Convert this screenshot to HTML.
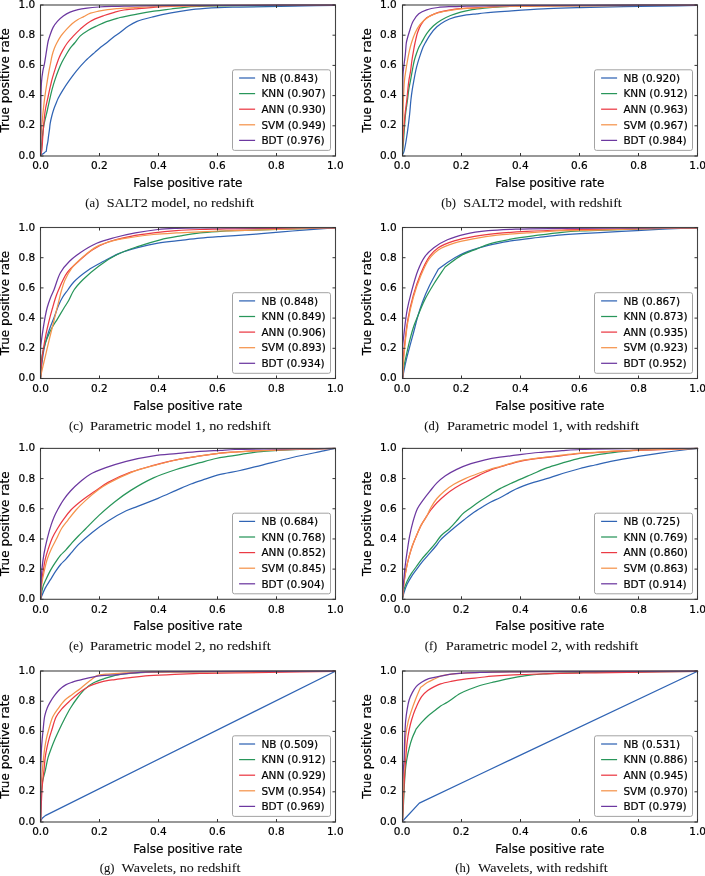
<!DOCTYPE html><html><head><meta charset="utf-8"><style>html,body{margin:0;padding:0;background:#fff;}svg{display:block}.t{font-family:"DejaVu Sans","Liberation Sans",sans-serif;fill:#000;stroke:#000;stroke-width:0.2px;}.c{font-family:"Liberation Serif","DejaVu Serif",serif;fill:#111;stroke:#111;stroke-width:0.08px;}</style></head><body>
<svg width="705" height="876" viewBox="0 0 705 876">
<rect width="705" height="876" fill="#fff"/>
<g><clipPath id="cp0"><rect x="40.5" y="4.0" width="296.0" height="152.5"/></clipPath><g clip-path="url(#cp0)" fill="none" stroke-width="1.25" stroke-linejoin="round" stroke-linecap="round"><path d="M40.8,155.3C42,154.43 43.4,153.46 44.4,152.7C45.14,152.14 45.67,151.7 46.3,151.2C46.5,149.57 46.64,147.87 46.9,146.3C47.15,144.81 47.54,143.58 47.8,142C48.12,140.08 48.32,137.72 48.6,135.6C48.88,133.49 49.23,131.38 49.5,129.3C49.76,127.28 49.85,125.39 50.2,123.3C50.59,120.98 51.21,118.33 51.8,116C52.35,113.81 52.92,111.73 53.6,109.7C54.26,107.74 55.04,105.89 55.8,104C56.57,102.09 57.2,100.32 58.2,98.3C59.41,95.85 60.99,93.17 62.7,90.4C64.68,87.18 67.19,83.47 69.5,80.2C71.73,77.05 73.8,74.16 76.3,71.1C79.05,67.74 82.23,64.1 85.4,60.9C88.5,57.77 92.49,54.41 95.1,52.1C96.84,50.56 97.85,49.65 99.5,48.3C101.52,46.65 104.14,44.81 106.4,43C108.64,41.21 110.73,39.25 113,37.5C115.27,35.75 117.57,34.3 120,32.5C122.71,30.5 125.59,27.88 128.5,26C131.26,24.21 133.59,22.78 137,21.4C141.61,19.53 148.3,18.02 154,16.6C159.67,15.19 165.39,13.99 171.1,12.9C176.76,11.82 182.42,10.85 188.1,10.1C193.75,9.35 199.75,8.83 205.1,8.4C209.88,8.02 213.66,7.81 218.7,7.6C225,7.34 231.79,7.28 240,7.1C251.25,6.86 265.61,6.56 280,6.3C296.88,5.99 316.67,5.7 335,5.4" stroke="#3064b4"/><path d="M40.6,155.3C41.07,150.33 41.48,145.3 42,140.4C42.51,135.61 42.86,131.07 43.7,126.2C44.61,120.95 46.29,114.99 47.4,110C48.35,105.73 49.12,101.91 50,98.1C50.82,94.56 51.61,91.13 52.5,87.9C53.32,84.93 54.14,82.29 55.1,79.4C56.12,76.33 57.31,72.96 58.5,70C59.59,67.29 60.65,64.83 61.9,62.3C63.17,59.73 64.65,57.14 66.1,54.7C67.49,52.35 68.9,49.93 70.4,47.9C71.75,46.08 73.11,44.8 74.6,43C76.37,40.86 78.07,38 80.3,35.9C82.61,33.72 85.49,31.89 88.3,30.2C91.15,28.49 94.27,27.12 97.3,25.7C100.31,24.29 103.33,22.84 106.4,21.7C109.4,20.58 113,19.67 115.5,18.9C117.26,18.35 118,18.01 120,17.5C123.83,16.52 131.33,15.15 137,14.1C142.66,13.05 148.32,12.05 154,11.2C159.68,10.35 165.73,9.68 171.1,9C175.89,8.39 180.31,7.74 184.7,7.3C188.79,6.89 191.39,6.64 196.6,6.4C206.54,5.93 222.73,5.79 240,5.6C265.54,5.32 303.33,5.4 335,5.3" stroke="#28965a"/><path d="M40.6,155.3C41,153.7 41.48,152.5 41.8,150.5C42.31,147.29 42.4,141.85 42.7,137.8C42.97,134.08 43.14,131.08 43.5,127.1C43.95,122.06 44.49,115.17 45.3,110C45.98,105.66 46.95,102.06 47.8,98.1C48.65,94.13 49.56,89.83 50.4,86.2C51.12,83.12 51.76,80.37 52.5,77.7C53.17,75.3 53.89,73.17 54.6,70.9C55.32,68.61 56.02,66.28 56.8,64C57.58,61.72 58.33,59.44 59.3,57.2C60.29,54.91 61.42,52.68 62.7,50.4C64.07,47.95 65.54,45.37 67.3,43C69.13,40.53 71.35,38.21 73.5,35.9C75.68,33.57 77.99,31.22 80.3,29.1C82.52,27.06 84.66,25.09 87.1,23.4C89.58,21.68 92.3,20.21 95.1,18.9C97.96,17.56 100.98,16.57 104.1,15.5C107.4,14.36 111.01,13.23 114.4,12.3C117.64,11.41 120.67,10.56 124,10C127.52,9.4 130.62,9.31 135,8.9C141.48,8.29 151.59,7.27 159.1,6.8C165.67,6.39 170.17,6.29 177.6,6.1C188.84,5.81 202.41,5.64 220,5.5C248.96,5.27 296.67,5.37 335,5.3" stroke="#eb3a44"/><path d="M40.6,155.3C40.77,148.43 40.76,140.91 41.1,134.7C41.38,129.55 41.91,124.96 42.3,120.6C42.64,116.81 42.9,113.75 43.3,110C43.75,105.75 44.28,100.93 44.9,96.4C45.52,91.86 46.32,87.01 47,82.8C47.59,79.15 48.11,75.85 48.7,72.6C49.25,69.61 49.83,66.86 50.4,64C50.97,61.16 51.43,58.16 52.1,55.5C52.71,53.09 53.38,50.84 54.2,48.7C54.97,46.69 55.77,44.98 56.8,43C57.98,40.73 59.39,38.18 61,35.9C62.67,33.54 64.75,31.23 66.7,29.1C68.56,27.07 70.43,25.05 72.4,23.4C74.21,21.89 76.08,20.65 78,19.5C79.85,18.39 81.71,17.6 83.7,16.6C85.86,15.51 88.09,14.09 90.5,13.2C93.01,12.27 95.74,11.79 98.5,11.2C101.4,10.58 104.48,10.02 107.5,9.6C110.52,9.18 113.72,8.96 116.6,8.7C119.19,8.47 121.29,8.27 124,8.1C127.3,7.89 130.68,7.8 135,7.6C141.21,7.31 148.96,6.8 157.7,6.5C169.62,6.08 181.92,5.81 200,5.6C232.3,5.22 290,5.4 335,5.3" stroke="#f5944c"/><path d="M40.6,155.3C40.67,140.2 40.7,121.03 40.8,110C40.86,103.65 40.88,99.82 41,95C41.12,90.51 41.17,86.12 41.5,82C41.8,78.25 42.25,74.52 42.8,71.3C43.25,68.62 43.86,66.82 44.4,64C45.13,60.17 45.92,54.51 46.6,50.4C47.17,46.98 47.56,43.7 48.2,41C48.7,38.9 49.2,37.5 49.9,35.5C50.76,33.05 51.76,29.84 53.1,27.4C54.36,25.11 55.9,23.1 57.6,21.2C59.3,19.3 61.23,17.51 63.3,16C65.39,14.48 67.69,13.16 70.1,12.1C72.58,11.01 75.25,10.26 78,9.6C80.9,8.91 83.89,8.52 87.1,8.1C90.68,7.63 94.53,7.28 98.5,7C102.83,6.7 107.72,6.53 112.1,6.4C116.2,6.28 119.92,6.3 124,6.2C128.31,6.1 131.61,5.91 137.3,5.8C147.5,5.6 161.33,5.5 180,5.4C215.57,5.21 283.33,5.27 335,5.2" stroke="#6c38a0"/></g><rect x="40.5" y="5.0" width="295" height="151" fill="none" stroke="#444" stroke-width="1.1"/><path d="M40.5,156v-3.0M40.5,5v3.0M40.5,156h3.0M335.5,156h-3.0" stroke="#333" stroke-width="1"/><text class="t" x="40.5" y="169.3" font-size="10.5" text-anchor="middle">0.0</text><text class="t" x="35.2" y="158.5" font-size="10.5" text-anchor="end">0.0</text><path d="M99.5,156v-3.0M99.5,5v3.0M40.5,125.8h3.0M335.5,125.8h-3.0" stroke="#333" stroke-width="1"/><text class="t" x="99.46" y="169.3" font-size="10.5" text-anchor="middle">0.2</text><text class="t" x="35.2" y="128.42" font-size="10.5" text-anchor="end">0.2</text><path d="M158.5,156v-3.0M158.5,5v3.0M40.5,95.6h3.0M335.5,95.6h-3.0" stroke="#333" stroke-width="1"/><text class="t" x="158.42" y="169.3" font-size="10.5" text-anchor="middle">0.4</text><text class="t" x="35.2" y="98.34" font-size="10.5" text-anchor="end">0.4</text><path d="M217.5,156v-3.0M217.5,5v3.0M40.5,65.4h3.0M335.5,65.4h-3.0" stroke="#333" stroke-width="1"/><text class="t" x="217.38" y="169.3" font-size="10.5" text-anchor="middle">0.6</text><text class="t" x="35.2" y="68.26" font-size="10.5" text-anchor="end">0.6</text><path d="M276.5,156v-3.0M276.5,5v3.0M40.5,35.2h3.0M335.5,35.2h-3.0" stroke="#333" stroke-width="1"/><text class="t" x="276.34" y="169.3" font-size="10.5" text-anchor="middle">0.8</text><text class="t" x="35.2" y="38.18" font-size="10.5" text-anchor="end">0.8</text><path d="M335.5,156v-3.0M335.5,5v3.0M40.5,5h3.0M335.5,5h-3.0" stroke="#333" stroke-width="1"/><text class="t" x="335.3" y="169.3" font-size="10.5" text-anchor="middle">1.0</text><text class="t" x="35.2" y="8.1" font-size="10.5" text-anchor="end">1.0</text><text class="t" x="187.9" y="187" font-size="12" text-anchor="middle">False positive rate</text><text class="t" x="9.4" y="80.3" font-size="12" text-anchor="middle" transform="rotate(-90 9.4 80.3)">True positive rate</text><rect x="232.5" y="69.8" width="98.0" height="80.6" rx="2" fill="#fff" stroke="#999" stroke-width="0.9"/><path d="M239.1,78h16" stroke="#3064b4" stroke-width="1.25"/><text class="t" x="261.4" y="81.7" font-size="10.5">NB (0.843)</text><path d="M239.1,93.6h16" stroke="#28965a" stroke-width="1.25"/><text class="t" x="261.4" y="97.3" font-size="10.5">KNN (0.907)</text><path d="M239.1,109.2h16" stroke="#eb3a44" stroke-width="1.25"/><text class="t" x="261.4" y="112.9" font-size="10.5">ANN (0.930)</text><path d="M239.1,124.8h16" stroke="#f5944c" stroke-width="1.25"/><text class="t" x="261.4" y="128.5" font-size="10.5">SVM (0.949)</text><path d="M239.1,140.4h16" stroke="#6c38a0" stroke-width="1.25"/><text class="t" x="261.4" y="144.1" font-size="10.5">BDT (0.976)</text><text class="c" x="85.2" y="206.8" font-size="12.6">(a)</text><text class="c" x="106.8" y="206.8" font-size="12.6" textLength="147.2" lengthAdjust="spacingAndGlyphs">SALT2 model, no redshift</text></g>
<g><clipPath id="cp1"><rect x="402.5" y="4.0" width="296.0" height="152.5"/></clipPath><g clip-path="url(#cp1)" fill="none" stroke-width="1.25" stroke-linejoin="round" stroke-linecap="round"><path d="M402.3,155.4C402.9,153.97 403.52,153.07 404.1,151.1C405.25,147.16 406.38,138.91 407.3,132.8C408.21,126.71 408.98,120.25 409.6,114.5C410.15,109.39 410.41,104.46 410.9,100C411.32,96.16 411.77,92.76 412.3,89.3C412.81,86.01 413.42,82.84 414,79.7C414.56,76.68 415.05,73.7 415.7,70.8C416.33,68 417.03,65.26 417.8,62.6C418.54,60.03 419.33,57.66 420.2,55.1C421.12,52.4 422.23,49.01 423.2,46.8C423.88,45.26 424.36,44.49 425.2,43C426.45,40.77 428.21,37.44 430.1,34.8C432.08,32.03 434.38,29.09 436.9,26.8C439.33,24.59 441.97,22.77 444.9,21.2C448,19.54 451.57,18.24 455.1,17.2C458.73,16.13 462.72,15.47 466.4,14.9C469.87,14.36 473.47,14.14 476.6,13.8C479.26,13.51 480.8,13.29 484,13C489.87,12.46 500.02,11.73 509,11.1C519.48,10.36 531.74,9.47 543.1,8.9C554.44,8.33 568.46,7.99 577.1,7.7C582.42,7.52 584.32,7.43 590,7.3C601.08,7.04 621.98,6.8 639,6.5C657.52,6.17 677.67,5.77 697,5.4" stroke="#3064b4"/><path d="M402.3,155.4C402.43,153.97 402.54,153.03 402.7,151.1C403.04,147.12 403.63,138.9 404.1,132.8C404.57,126.7 404.89,120.24 405.5,114.5C406.05,109.38 406.92,104.47 407.5,100C408,96.17 408.24,92.87 408.8,89.3C409.37,85.67 410.25,81.92 410.9,78.4C411.51,75.1 412.01,71.88 412.6,68.8C413.15,65.93 413.63,63.11 414.3,60.5C414.91,58.1 415.61,55.96 416.4,53.7C417.21,51.39 418.17,48.73 419.1,46.8C419.82,45.31 420.41,44.55 421.3,43C422.7,40.57 424.64,36.51 426.7,33.6C428.72,30.75 431,27.99 433.5,25.7C435.92,23.48 438.6,21.69 441.4,20C444.26,18.28 447.33,16.8 450.5,15.5C453.76,14.16 457.18,13.07 460.7,12.1C464.37,11.09 468.24,10.26 472.1,9.6C476.01,8.93 479.7,8.54 484,8.1C489.05,7.58 493.81,7.15 500.5,6.8C510.83,6.26 522.46,6.05 540,5.8C574.96,5.3 644.67,5.47 697,5.3" stroke="#28965a"/><path d="M402.3,155.4C402.43,152.43 402.53,149.78 402.7,146.5C402.91,142.42 403.16,137.69 403.5,132.8C403.9,127.14 404.41,120.24 405,114.5C405.53,109.38 406.21,105.16 406.8,100C407.48,94.12 408.05,86.44 408.8,81.1C409.36,77.14 410.08,74.24 410.6,70.8C411.12,67.37 411.4,63.92 411.9,60.5C412.4,57.09 413.04,53.41 413.6,50.3C414.07,47.66 414.42,45.65 415,43C415.7,39.81 416.52,35.71 417.6,32.5C418.56,29.64 419.5,27.03 421,24.6C422.52,22.13 424.43,19.6 426.7,17.8C428.97,16 431.82,14.89 434.6,13.8C437.48,12.67 440.48,11.94 443.7,11.2C447.27,10.38 451.21,9.71 455.1,9.2C459.14,8.67 463.07,8.4 467.5,8.1C472.6,7.75 478.54,7.57 484,7.3C489.37,7.04 493.46,6.72 500,6.5C510.33,6.15 522.28,5.98 540,5.8C575.11,5.44 644.67,5.47 697,5.3" stroke="#eb3a44"/><path d="M402.3,155.4C402.37,150.27 402.42,144.17 402.5,140C402.56,137.15 402.63,135.87 402.7,132.8C402.82,127.33 402.96,116.06 403.1,110C403.2,105.99 403.24,103.86 403.4,100C403.62,94.69 403.9,86.44 404.4,81.1C404.77,77.14 405.28,74.23 405.8,70.8C406.32,67.36 406.88,63.92 407.5,60.5C408.12,57.09 408.77,53.46 409.5,50.3C410.15,47.51 410.73,45.24 411.6,42.5C412.6,39.35 413.85,35.58 415.3,32.5C416.65,29.65 418.11,26.92 419.9,24.6C421.58,22.42 423.42,20.58 425.6,18.9C427.92,17.11 430.61,15.51 433.5,14.3C436.61,13 440.18,12.27 443.7,11.5C447.37,10.69 451.21,10.11 455.1,9.6C459.14,9.07 463.07,8.74 467.5,8.4C472.6,8.01 478.54,7.8 484,7.5C489.37,7.2 493.46,6.85 500,6.6C510.33,6.21 522.28,6.01 540,5.8C575.11,5.39 644.67,5.47 697,5.3" stroke="#f5944c"/><path d="M402.3,155.4C402.33,143.6 402.36,130.13 402.4,120C402.43,112.39 402.44,105.82 402.5,100C402.55,95.49 402.62,92.14 402.7,88C402.79,83.56 402.73,78.45 403,74.2C403.24,70.54 403.7,67.41 404.1,64C404.5,60.57 405.04,57.17 405.4,53.7C405.77,50.17 405.89,45.7 406.3,43C406.56,41.33 406.82,40.49 407.2,39C407.69,37.09 408.31,34.95 409.1,32.5C410.15,29.24 411.33,24.45 413.1,21.2C414.66,18.33 416.49,15.71 418.8,13.8C421.05,11.94 423.75,10.82 426.7,9.8C430.06,8.63 434.03,8.03 438,7.5C442.33,6.92 447.05,6.82 451.7,6.6C456.51,6.38 461.28,6.33 466.4,6.2C472,6.06 477.09,5.92 484,5.8C493.88,5.63 503.46,5.5 520,5.4C556.68,5.18 638,5.27 697,5.2" stroke="#6c38a0"/></g><rect x="402.5" y="5.0" width="295" height="151" fill="none" stroke="#444" stroke-width="1.1"/><path d="M402.5,156v-3.0M402.5,5v3.0M402.5,156h3.0M697.5,156h-3.0" stroke="#333" stroke-width="1"/><text class="t" x="402.1" y="169.3" font-size="10.5" text-anchor="middle">0.0</text><text class="t" x="396.8" y="158.5" font-size="10.5" text-anchor="end">0.0</text><path d="M461.5,156v-3.0M461.5,5v3.0M402.5,125.8h3.0M697.5,125.8h-3.0" stroke="#333" stroke-width="1"/><text class="t" x="461.2" y="169.3" font-size="10.5" text-anchor="middle">0.2</text><text class="t" x="396.8" y="128.42" font-size="10.5" text-anchor="end">0.2</text><path d="M520.5,156v-3.0M520.5,5v3.0M402.5,95.6h3.0M697.5,95.6h-3.0" stroke="#333" stroke-width="1"/><text class="t" x="520.3" y="169.3" font-size="10.5" text-anchor="middle">0.4</text><text class="t" x="396.8" y="98.34" font-size="10.5" text-anchor="end">0.4</text><path d="M579.5,156v-3.0M579.5,5v3.0M402.5,65.4h3.0M697.5,65.4h-3.0" stroke="#333" stroke-width="1"/><text class="t" x="579.4" y="169.3" font-size="10.5" text-anchor="middle">0.6</text><text class="t" x="396.8" y="68.26" font-size="10.5" text-anchor="end">0.6</text><path d="M638.5,156v-3.0M638.5,5v3.0M402.5,35.2h3.0M697.5,35.2h-3.0" stroke="#333" stroke-width="1"/><text class="t" x="638.5" y="169.3" font-size="10.5" text-anchor="middle">0.8</text><text class="t" x="396.8" y="38.18" font-size="10.5" text-anchor="end">0.8</text><path d="M697.5,156v-3.0M697.5,5v3.0M402.5,5h3.0M697.5,5h-3.0" stroke="#333" stroke-width="1"/><text class="t" x="697.6" y="169.3" font-size="10.5" text-anchor="middle">1.0</text><text class="t" x="396.8" y="8.1" font-size="10.5" text-anchor="end">1.0</text><text class="t" x="549.85" y="187" font-size="12" text-anchor="middle">False positive rate</text><text class="t" x="371" y="80.3" font-size="12" text-anchor="middle" transform="rotate(-90 371 80.3)">True positive rate</text><rect x="594.5" y="69.8" width="98.0" height="80.6" rx="2" fill="#fff" stroke="#999" stroke-width="0.9"/><path d="M601.1,78h16" stroke="#3064b4" stroke-width="1.25"/><text class="t" x="623.4" y="81.7" font-size="10.5">NB (0.920)</text><path d="M601.1,93.6h16" stroke="#28965a" stroke-width="1.25"/><text class="t" x="623.4" y="97.3" font-size="10.5">KNN (0.912)</text><path d="M601.1,109.2h16" stroke="#eb3a44" stroke-width="1.25"/><text class="t" x="623.4" y="112.9" font-size="10.5">ANN (0.963)</text><path d="M601.1,124.8h16" stroke="#f5944c" stroke-width="1.25"/><text class="t" x="623.4" y="128.5" font-size="10.5">SVM (0.967)</text><path d="M601.1,140.4h16" stroke="#6c38a0" stroke-width="1.25"/><text class="t" x="623.4" y="144.1" font-size="10.5">BDT (0.984)</text><text class="c" x="441.2" y="206.8" font-size="12.6">(b)</text><text class="c" x="463.3" y="206.8" font-size="12.6" textLength="158.5" lengthAdjust="spacingAndGlyphs">SALT2 model, with redshift</text></g>
<g><clipPath id="cp2"><rect x="40.5" y="226.5" width="296.0" height="152.5"/></clipPath><g clip-path="url(#cp2)" fill="none" stroke-width="1.25" stroke-linejoin="round" stroke-linecap="round"><path d="M40.5,378.3C41.03,372.83 41.46,367.07 42.1,361.9C42.68,357.23 43.23,352.94 44.1,348.6C44.94,344.37 46.09,340 47.2,336.2C48.17,332.88 49.15,330.14 50.3,327C51.53,323.65 53.06,320.22 54.4,316.7C55.8,313.03 57.03,308.83 58.5,305.4C59.79,302.41 61.03,299.78 62.6,297.2C64.14,294.66 65.98,292.48 67.8,290C69.77,287.32 71.32,284.51 74,281.7C77.51,278.02 82.82,273.78 87.7,270.4C92.64,266.97 98.18,264.15 103.5,261.3C108.75,258.49 113.83,255.64 119.4,253.4C125.17,251.08 131.32,249.37 137.6,247.7C144.17,245.95 150.99,244.4 158,243.2C165.34,241.94 173.44,241.26 180.7,240.4C187.39,239.61 193.5,238.83 200,238.2C206.63,237.56 213.9,237.05 220.1,236.6C225.44,236.21 229.34,236 235,235.6C242.51,235.08 252.09,234.42 261.2,233.7C271.15,232.91 282,231.85 292.4,231C302.8,230.15 315.76,229.14 323.6,228.6C328.34,228.27 331.2,228.13 335,227.9" stroke="#3064b4"/><path d="M40.5,378.3C41.03,370.8 41.09,362.15 42.1,355.8C42.86,351.02 43.94,347.29 45.2,343.4C46.37,339.79 47.97,336.16 49.3,333.2C50.36,330.85 51.18,329.18 52.4,327C53.84,324.43 55.73,321.7 57.5,318.8C59.48,315.57 61.72,311.73 63.7,308.5C65.47,305.6 67.15,303.23 68.8,300.3C70.6,297.1 71.78,293.32 74,290C76.44,286.36 79.49,283.09 83.1,279.5C87.53,275.1 93.36,270.04 99,265.9C104.72,261.7 110.8,257.71 117.2,254.5C123.66,251.26 130.57,249.01 137.6,246.6C144.92,244.09 152.89,241.61 160.3,239.8C167.24,238.1 173.98,237.06 180.7,235.9C187.21,234.77 193.49,233.65 200,232.9C206.62,232.14 213.9,231.78 220.1,231.4C225.44,231.08 228.78,230.94 235,230.7C245.42,230.31 263.11,229.92 276.8,229.5C290.03,229.09 305.08,228.49 315.8,228.2C323.32,228 328.6,227.93 335,227.8" stroke="#28965a"/><path d="M40.5,378.3C40.87,372.83 41.06,367.17 41.6,361.9C42.11,356.96 42.84,352.37 43.6,347.6C44.37,342.8 45.23,337.9 46.2,333.2C47.14,328.64 48.22,324.07 49.3,319.8C50.3,315.86 51.36,312.18 52.4,308.5C53.39,304.98 54.32,301.42 55.4,298.2C56.37,295.29 57.1,293.19 58.5,290C60.58,285.25 63.64,277.63 67.2,272.7C70.45,268.2 74.54,265 78.6,261.3C82.85,257.42 87.29,253.21 92.2,250C97.12,246.78 102.2,244.2 108.1,242C114.87,239.48 123.2,237.82 130.8,236.3C138.33,234.79 145.92,233.83 153.5,232.9C161.05,231.97 168.54,231.26 176.2,230.7C184.03,230.12 192.4,229.77 200,229.5C206.98,229.25 213.9,229.22 220.1,229.1C225.44,228.99 228.78,228.9 235,228.8C245.42,228.63 261.72,228.46 276.8,228.3C294.6,228.12 315.6,227.97 335,227.8" stroke="#eb3a44"/><path d="M40.5,378.3C40.87,376.27 41.09,374.69 41.6,372.2C42.42,368.23 43.96,362.1 45.2,356.8C46.52,351.15 48.01,344.62 49.3,339.3C50.39,334.83 51.38,331.1 52.4,327C53.42,322.9 54.39,318.81 55.4,314.7C56.42,310.57 57.46,306.42 58.5,302.3C59.53,298.19 60.46,293.87 61.6,290C62.64,286.47 63.47,283.4 65,280C66.75,276.12 68.95,271.84 71.8,268.1C74.88,264.07 79.02,260.34 83.1,256.8C87.3,253.15 91.77,249.25 96.7,246.6C101.61,243.96 107.06,242.4 112.6,240.9C118.4,239.33 124.38,238.52 130.8,237.5C137.93,236.36 145.92,235.27 153.5,234.5C161.06,233.74 168.54,233.35 176.2,232.9C184.04,232.44 192.4,232.13 200,231.8C206.98,231.5 213.9,231.19 220.1,231C225.44,230.84 228.78,230.85 235,230.7C245.42,230.45 263.11,229.92 276.8,229.5C290.03,229.09 305.08,228.49 315.8,228.2C323.32,228 328.6,227.93 335,227.8" stroke="#f5944c"/><path d="M40.5,378.3C40.5,372.2 40.48,365.51 40.5,360C40.52,355.47 40.36,351.31 40.6,347.6C40.8,344.55 41.21,342.21 41.6,339.3C42.03,336.07 42.54,332.66 43.1,329.1C43.72,325.17 44.46,320.52 45.2,316.7C45.84,313.4 46.36,310.55 47.2,307.5C48.06,304.39 49.15,301.18 50.3,298.2C51.4,295.35 52.57,293.26 53.9,290C55.81,285.32 57.57,277.68 60.4,272.7C62.91,268.28 66.08,264.72 69.5,261.3C72.92,257.88 76.67,255.07 80.9,252.2C85.63,249 91.11,245.63 96.7,243.2C102.43,240.71 108.62,239.19 114.9,237.5C121.47,235.73 128.29,234.21 135.3,232.9C142.64,231.52 150.84,230.25 158,229.5C164.39,228.83 169.72,228.66 176.2,228.4C183.6,228.1 188.82,228.03 200,227.9C226.61,227.6 290,227.77 335,227.7" stroke="#6c38a0"/></g><rect x="40.5" y="227.5" width="295" height="151" fill="none" stroke="#444" stroke-width="1.1"/><path d="M40.5,378.5v-3.0M40.5,227.5v3.0M40.5,378.5h3.0M335.5,378.5h-3.0" stroke="#333" stroke-width="1"/><text class="t" x="40.5" y="392.2" font-size="10.5" text-anchor="middle">0.0</text><text class="t" x="35.2" y="381.4" font-size="10.5" text-anchor="end">0.0</text><path d="M99.5,378.5v-3.0M99.5,227.5v3.0M40.5,348.3h3.0M335.5,348.3h-3.0" stroke="#333" stroke-width="1"/><text class="t" x="99.46" y="392.2" font-size="10.5" text-anchor="middle">0.2</text><text class="t" x="35.2" y="351.26" font-size="10.5" text-anchor="end">0.2</text><path d="M158.5,378.5v-3.0M158.5,227.5v3.0M40.5,318.1h3.0M335.5,318.1h-3.0" stroke="#333" stroke-width="1"/><text class="t" x="158.42" y="392.2" font-size="10.5" text-anchor="middle">0.4</text><text class="t" x="35.2" y="321.12" font-size="10.5" text-anchor="end">0.4</text><path d="M217.5,378.5v-3.0M217.5,227.5v3.0M40.5,287.9h3.0M335.5,287.9h-3.0" stroke="#333" stroke-width="1"/><text class="t" x="217.38" y="392.2" font-size="10.5" text-anchor="middle">0.6</text><text class="t" x="35.2" y="290.98" font-size="10.5" text-anchor="end">0.6</text><path d="M276.5,378.5v-3.0M276.5,227.5v3.0M40.5,257.7h3.0M335.5,257.7h-3.0" stroke="#333" stroke-width="1"/><text class="t" x="276.34" y="392.2" font-size="10.5" text-anchor="middle">0.8</text><text class="t" x="35.2" y="260.84" font-size="10.5" text-anchor="end">0.8</text><path d="M335.5,378.5v-3.0M335.5,227.5v3.0M40.5,227.5h3.0M335.5,227.5h-3.0" stroke="#333" stroke-width="1"/><text class="t" x="335.3" y="392.2" font-size="10.5" text-anchor="middle">1.0</text><text class="t" x="35.2" y="230.7" font-size="10.5" text-anchor="end">1.0</text><text class="t" x="187.9" y="409.9" font-size="12" text-anchor="middle">False positive rate</text><text class="t" x="9.4" y="303.05" font-size="12" text-anchor="middle" transform="rotate(-90 9.4 303.05)">True positive rate</text><rect x="232.5" y="292.7" width="98.0" height="80.6" rx="2" fill="#fff" stroke="#999" stroke-width="0.9"/><path d="M239.1,300.9h16" stroke="#3064b4" stroke-width="1.25"/><text class="t" x="261.4" y="304.6" font-size="10.5">NB (0.848)</text><path d="M239.1,316.5h16" stroke="#28965a" stroke-width="1.25"/><text class="t" x="261.4" y="320.2" font-size="10.5">KNN (0.849)</text><path d="M239.1,332.1h16" stroke="#eb3a44" stroke-width="1.25"/><text class="t" x="261.4" y="335.8" font-size="10.5">ANN (0.906)</text><path d="M239.1,347.7h16" stroke="#f5944c" stroke-width="1.25"/><text class="t" x="261.4" y="351.4" font-size="10.5">SVM (0.893)</text><path d="M239.1,363.3h16" stroke="#6c38a0" stroke-width="1.25"/><text class="t" x="261.4" y="367" font-size="10.5">BDT (0.934)</text><text class="c" x="69.1" y="429.7" font-size="12.6">(c)</text><text class="c" x="90" y="429.7" font-size="12.6" textLength="180.7" lengthAdjust="spacingAndGlyphs">Parametric model 1, no redshift</text></g>
<g><clipPath id="cp3"><rect x="402.5" y="226.5" width="296.0" height="152.5"/></clipPath><g clip-path="url(#cp3)" fill="none" stroke-width="1.25" stroke-linejoin="round" stroke-linecap="round"><path d="M402.6,378.1C402.97,376.1 403.23,374.47 403.7,372.1C404.38,368.65 405.38,363.7 406.4,359.4C407.47,354.91 408.78,350.26 410,345.7C411.22,341.13 412.46,336.67 413.7,332C414.99,327.12 416.15,321.96 417.6,317C419.05,312.03 420.53,307.18 422.4,302.2C424.37,296.95 426.64,291.63 429.2,286.3C431.9,280.67 435.27,274.97 438.3,269.3C441.33,267 443.86,264.73 447.4,262.4C451.88,259.45 457.25,256.05 463.3,253.4C470.53,250.23 480.03,247.51 488.2,245.4C495.88,243.41 502.96,242.18 510.9,240.9C519.56,239.5 529.41,238.55 538.2,237.5C546.4,236.52 554.6,235.46 562,234.8C568.44,234.22 573.92,233.96 580.1,233.6C586.57,233.22 592.36,233 600,232.6C610.4,232.06 625.04,231.22 636.8,230.6C647.63,230.03 657.74,229.47 668,229C678,228.54 687.73,228.2 697.6,227.8" stroke="#3064b4"/><path d="M402.6,378.1C402.97,374.6 403.12,371.26 403.7,367.6C404.34,363.53 405.41,359.27 406.4,354.8C407.49,349.88 408.72,344.2 410,339.3C411.17,334.81 412.32,330.55 413.7,326.5C414.98,322.74 416.3,319.71 417.9,315.8C419.86,311.01 422.1,305.13 424.7,299.9C427.38,294.52 430.51,289.33 433.8,284C437.28,278.37 441.33,272.67 445.1,267C450.4,263.2 455.53,258.68 461,255.6C466.15,252.7 471.79,250.87 476.9,248.8C481.59,246.9 485.45,245.11 490.5,243.6C496.55,241.79 503.58,240.43 510.9,239.1C519.31,237.57 529.41,236.36 538.2,235.2C546.4,234.11 554.6,233.02 562,232.3C568.44,231.68 574.08,231.32 580.1,231C586.08,230.69 590.78,230.64 598,230.4C609.06,230.03 624.9,229.41 640,229C657.69,228.52 678.4,228.2 697.6,227.8" stroke="#28965a"/><path d="M402.6,378.1C402.8,372.07 402.87,365.46 403.2,360C403.48,355.47 403.77,352.53 404.3,347.6C405.08,340.27 406.16,329.15 407.7,320.3C409.19,311.77 411.1,303.24 413.3,295.4C415.32,288.18 417.49,281.43 420.2,274.9C422.82,268.59 425.75,261.59 429.2,256.8C431.95,252.98 434.55,250.23 438.3,247.7C442.64,244.76 448.48,242.75 454.2,240.9C460.49,238.86 467.59,237.54 474.6,236.3C481.93,235.01 489.23,234.19 497.3,233.4C506.48,232.5 516.53,231.95 526.8,231.4C538.01,230.8 550.2,230.35 562,230C573.93,229.65 583.01,229.56 598,229.3C622.93,228.87 664.4,228.3 697.6,227.8" stroke="#eb3a44"/><path d="M402.6,378.1C402.87,373.73 403.12,369.35 403.4,365C403.68,360.68 403.82,357.27 404.3,352.1C405.02,344.27 406.11,331.99 407.7,322.6C409.17,313.88 411.1,305.46 413.3,297.6C415.32,290.4 417.5,283.72 420.2,277.2C422.82,270.87 425.74,263.79 429.2,259C431.95,255.2 434.56,252.51 438.3,250C442.65,247.08 448.48,245.05 454.2,243.2C460.49,241.16 467.59,239.91 474.6,238.6C481.94,237.22 489.22,236.12 497.3,235.2C506.47,234.16 516.53,233.62 526.8,232.9C538.01,232.11 550.2,231.17 562,230.7C573.93,230.23 585.78,230.38 598,230.1C610.69,229.81 622.42,229.35 636.8,229C654.8,228.57 677.33,228.2 697.6,227.8" stroke="#f5944c"/><path d="M402.6,378.1C402.63,367.3 402.28,353.2 402.7,345.7C402.92,341.69 403.31,339.96 403.7,336.5C404.21,332 404.86,325.82 405.5,321C406.07,316.77 406.48,313.34 407.3,309.1C408.26,304.14 409.55,298.87 411.1,293.1C412.96,286.17 415.32,276.91 417.9,270.4C419.97,265.19 421.9,260.69 424.7,256.8C427.28,253.22 430.26,250.42 433.8,247.7C437.71,244.69 442.41,242 447.4,239.8C452.88,237.38 459.06,235.59 465.5,234.1C472.58,232.47 480.27,231.53 488.2,230.7C496.86,229.8 505.19,229.48 515.5,229.1C528.94,228.61 542.45,228.6 562,228.4C595.39,228.06 652.4,227.93 697.6,227.7" stroke="#6c38a0"/></g><rect x="402.5" y="227.5" width="295" height="151" fill="none" stroke="#444" stroke-width="1.1"/><path d="M402.5,378.5v-3.0M402.5,227.5v3.0M402.5,378.5h3.0M697.5,378.5h-3.0" stroke="#333" stroke-width="1"/><text class="t" x="402.1" y="392.2" font-size="10.5" text-anchor="middle">0.0</text><text class="t" x="396.8" y="381.4" font-size="10.5" text-anchor="end">0.0</text><path d="M461.5,378.5v-3.0M461.5,227.5v3.0M402.5,348.3h3.0M697.5,348.3h-3.0" stroke="#333" stroke-width="1"/><text class="t" x="461.2" y="392.2" font-size="10.5" text-anchor="middle">0.2</text><text class="t" x="396.8" y="351.26" font-size="10.5" text-anchor="end">0.2</text><path d="M520.5,378.5v-3.0M520.5,227.5v3.0M402.5,318.1h3.0M697.5,318.1h-3.0" stroke="#333" stroke-width="1"/><text class="t" x="520.3" y="392.2" font-size="10.5" text-anchor="middle">0.4</text><text class="t" x="396.8" y="321.12" font-size="10.5" text-anchor="end">0.4</text><path d="M579.5,378.5v-3.0M579.5,227.5v3.0M402.5,287.9h3.0M697.5,287.9h-3.0" stroke="#333" stroke-width="1"/><text class="t" x="579.4" y="392.2" font-size="10.5" text-anchor="middle">0.6</text><text class="t" x="396.8" y="290.98" font-size="10.5" text-anchor="end">0.6</text><path d="M638.5,378.5v-3.0M638.5,227.5v3.0M402.5,257.7h3.0M697.5,257.7h-3.0" stroke="#333" stroke-width="1"/><text class="t" x="638.5" y="392.2" font-size="10.5" text-anchor="middle">0.8</text><text class="t" x="396.8" y="260.84" font-size="10.5" text-anchor="end">0.8</text><path d="M697.5,378.5v-3.0M697.5,227.5v3.0M402.5,227.5h3.0M697.5,227.5h-3.0" stroke="#333" stroke-width="1"/><text class="t" x="697.6" y="392.2" font-size="10.5" text-anchor="middle">1.0</text><text class="t" x="396.8" y="230.7" font-size="10.5" text-anchor="end">1.0</text><text class="t" x="549.85" y="409.9" font-size="12" text-anchor="middle">False positive rate</text><text class="t" x="371" y="303.05" font-size="12" text-anchor="middle" transform="rotate(-90 371 303.05)">True positive rate</text><rect x="594.5" y="292.7" width="98.0" height="80.6" rx="2" fill="#fff" stroke="#999" stroke-width="0.9"/><path d="M601.1,300.9h16" stroke="#3064b4" stroke-width="1.25"/><text class="t" x="623.4" y="304.6" font-size="10.5">NB (0.867)</text><path d="M601.1,316.5h16" stroke="#28965a" stroke-width="1.25"/><text class="t" x="623.4" y="320.2" font-size="10.5">KNN (0.873)</text><path d="M601.1,332.1h16" stroke="#eb3a44" stroke-width="1.25"/><text class="t" x="623.4" y="335.8" font-size="10.5">ANN (0.935)</text><path d="M601.1,347.7h16" stroke="#f5944c" stroke-width="1.25"/><text class="t" x="623.4" y="351.4" font-size="10.5">SVM (0.923)</text><path d="M601.1,363.3h16" stroke="#6c38a0" stroke-width="1.25"/><text class="t" x="623.4" y="367" font-size="10.5">BDT (0.952)</text><text class="c" x="424.3" y="429.7" font-size="12.6">(d)</text><text class="c" x="446.9" y="429.7" font-size="12.6" textLength="192.1" lengthAdjust="spacingAndGlyphs">Parametric model 1, with redshift</text></g>
<g><clipPath id="cp4"><rect x="40.5" y="447.4" width="296.0" height="152.39999999999998"/></clipPath><g clip-path="url(#cp4)" fill="none" stroke-width="1.25" stroke-linejoin="round" stroke-linecap="round"><path d="M40.6,598.8C42.13,595.23 43.49,591.37 45.2,588.1C46.76,585.12 48.6,582.63 50.3,579.9C52,577.17 53.65,574.32 55.4,571.7C57.08,569.19 58.79,566.64 60.6,564.5C62.24,562.56 63.95,561.21 65.7,559.3C67.7,557.12 69.79,554.54 71.9,552.1C74.09,549.57 75.87,547.15 78.6,544.4C82.24,540.73 87.39,536.23 92.2,532.4C97.2,528.42 102.53,524.55 108.1,521C113.84,517.34 120.78,513.38 126.2,510.8C130.36,508.82 133.25,508.01 137.6,506.3C143.42,504.01 151.42,501.02 158,498.3C164.26,495.71 170.45,492.89 176.2,490.4C181.39,488.15 186.02,485.93 191,484C195.92,482.1 201.26,480.47 205.9,478.9C209.95,477.53 213.61,476.1 217.3,475.1C220.69,474.18 223.69,473.72 227.2,473C231.19,472.19 235.21,471.55 240,470.5C246.19,469.14 253.46,467.22 261.2,465.3C270.6,462.97 281.98,459.9 292.4,457.5C302.78,455.11 315.7,452.58 323.6,450.9C328.44,449.87 331.4,449.23 335.3,448.4" stroke="#3064b4"/><path d="M40.6,598.8C41.43,594.57 41.99,589.69 43.1,586.1C43.96,583.31 45.06,581.37 46.2,578.9C47.44,576.22 48.79,573.32 50.3,570.6C51.85,567.82 53.65,565.02 55.4,562.4C57.08,559.89 58.79,557.33 60.6,555.2C62.23,553.28 63.95,551.98 65.7,550.1C67.7,547.94 69.77,545.28 71.9,542.9C74.07,540.48 76.33,538.03 78.6,535.7C80.83,533.4 82.75,531.63 85.4,529C89.16,525.27 94.2,519.85 99,515.4C104.01,510.75 109.5,505.93 114.9,501.7C120.11,497.62 124.91,494.1 130.8,490.4C137.59,486.14 145.8,481.42 153.5,477.9C160.94,474.5 168.49,472.02 176.2,469.5C183.99,466.95 192.86,464.66 200,462.7C205.82,461.1 210.73,459.6 215.9,458.5C220.72,457.47 225.18,456.99 230,456.2C235.07,455.36 240.39,454.37 245.6,453.6C250.79,452.83 255.99,452.12 261.2,451.6C266.39,451.08 271.08,450.84 276.8,450.5C283.77,450.09 291.46,449.72 300,449.4C310.53,449 323.53,448.73 335.3,448.4" stroke="#28965a"/><path d="M40.6,598.8C40.93,593.17 41.09,586.82 41.6,581.9C41.99,578.06 42.54,575.26 43.1,571.7C43.72,567.77 44.3,563.21 45.2,559.3C46.03,555.71 47.05,552.57 48.2,549.1C49.43,545.39 50.78,541.24 52.4,537.7C53.91,534.41 55.65,531.54 57.5,528.5C59.41,525.37 61.49,522.25 63.7,519.2C65.95,516.08 68.01,513.03 70.9,510C74.29,506.45 79.02,502.67 83.1,499.5C86.89,496.55 90.52,494.23 94.5,491.5C98.82,488.54 102.85,485.31 108.1,482.4C114.58,478.81 123.14,475.05 130.8,472.2C138.28,469.41 145.91,467.47 153.5,465.4C161.04,463.34 168.51,461.38 176.2,459.8C184.01,458.2 192.39,457.05 200,455.9C206.98,454.84 213.89,453.76 220.1,453.1C225.43,452.53 229.77,452.35 235,452C240.81,451.61 246.9,451.22 253.4,450.9C260.73,450.54 267.24,450.31 276.8,450C291.91,449.5 315.8,448.93 335.3,448.4" stroke="#eb3a44"/><path d="M40.6,598.8C41.1,593.17 41.4,586.81 42.1,581.9C42.65,578.06 43.31,575.26 44.1,571.7C44.98,567.76 45.94,563.19 47.2,559.3C48.37,555.69 49.77,552.48 51.3,549.1C52.86,545.64 54.78,542.24 56.5,538.8C58.21,535.37 59.65,531.65 61.6,528.5C63.44,525.52 65.57,523.17 67.8,520.3C70.32,517.05 73.07,513.28 76,510C78.94,506.71 81.9,503.79 85.4,500.6C89.44,496.92 94.83,492.34 99,489.3C102.26,486.92 104.31,485.61 108.1,483.5C113.89,480.28 123.12,475.61 130.8,472.6C138.26,469.68 145.9,467.71 153.5,465.6C161.04,463.51 168.51,461.59 176.2,460C184.01,458.38 192.39,457.17 200,456C206.98,454.93 213.89,453.86 220.1,453.2C225.43,452.63 229.77,452.46 235,452.1C240.81,451.7 246.9,451.24 253.4,450.9C260.73,450.52 267.24,450.31 276.8,450C291.91,449.5 315.8,448.93 335.3,448.4" stroke="#f5944c"/><path d="M40.6,598.8C40.67,595.87 40.71,592.87 40.8,590C40.88,587.24 40.94,584.98 41.1,581.9C41.32,577.8 41.6,572.37 42.1,567.6C42.6,562.8 43.25,557.98 44.1,553.2C44.95,548.38 46.01,543.58 47.2,538.8C48.4,533.98 49.94,528.5 51.3,524.4C52.34,521.26 53.3,518.72 54.4,516.2C55.38,513.96 56.25,512.29 57.5,510C59.13,507.02 61.31,503.09 63.5,499.9C65.65,496.77 67.82,493.93 70.5,491C73.5,487.72 77.39,484.16 80.8,481.3C83.85,478.74 86.3,476.57 89.9,474.5C94.34,471.94 100.11,469.8 105.8,467.7C112.12,465.36 118.85,463.17 126.2,461.3C134.58,459.16 144.79,457.2 153.5,455.9C161.39,454.72 168.54,454.34 176.2,453.6C184.04,452.84 192.4,451.96 200,451.4C206.98,450.89 213.9,450.64 220.1,450.3C225.44,450.01 228.69,449.72 235,449.5C245.95,449.12 264.23,448.98 280,448.8C297.48,448.6 316.87,448.53 335.3,448.4" stroke="#6c38a0"/></g><rect x="40.5" y="448.4" width="295" height="150.9" fill="none" stroke="#444" stroke-width="1.1"/><path d="M40.5,599.3v-3.0M40.5,448.4v3.0M40.5,599.3h3.0M335.5,599.3h-3.0" stroke="#333" stroke-width="1"/><text class="t" x="40.5" y="612.7" font-size="10.5" text-anchor="middle">0.0</text><text class="t" x="35.2" y="601.9" font-size="10.5" text-anchor="end">0.0</text><path d="M99.5,599.3v-3.0M99.5,448.4v3.0M40.5,569.12h3.0M335.5,569.12h-3.0" stroke="#333" stroke-width="1"/><text class="t" x="99.46" y="612.7" font-size="10.5" text-anchor="middle">0.2</text><text class="t" x="35.2" y="571.8" font-size="10.5" text-anchor="end">0.2</text><path d="M158.5,599.3v-3.0M158.5,448.4v3.0M40.5,538.94h3.0M335.5,538.94h-3.0" stroke="#333" stroke-width="1"/><text class="t" x="158.42" y="612.7" font-size="10.5" text-anchor="middle">0.4</text><text class="t" x="35.2" y="541.7" font-size="10.5" text-anchor="end">0.4</text><path d="M217.5,599.3v-3.0M217.5,448.4v3.0M40.5,508.76h3.0M335.5,508.76h-3.0" stroke="#333" stroke-width="1"/><text class="t" x="217.38" y="612.7" font-size="10.5" text-anchor="middle">0.6</text><text class="t" x="35.2" y="511.6" font-size="10.5" text-anchor="end">0.6</text><path d="M276.5,599.3v-3.0M276.5,448.4v3.0M40.5,478.58h3.0M335.5,478.58h-3.0" stroke="#333" stroke-width="1"/><text class="t" x="276.34" y="612.7" font-size="10.5" text-anchor="middle">0.8</text><text class="t" x="35.2" y="481.5" font-size="10.5" text-anchor="end">0.8</text><path d="M335.5,599.3v-3.0M335.5,448.4v3.0M40.5,448.4h3.0M335.5,448.4h-3.0" stroke="#333" stroke-width="1"/><text class="t" x="335.3" y="612.7" font-size="10.5" text-anchor="middle">1.0</text><text class="t" x="35.2" y="451.4" font-size="10.5" text-anchor="end">1.0</text><text class="t" x="187.9" y="630.4" font-size="12" text-anchor="middle">False positive rate</text><text class="t" x="9.4" y="523.65" font-size="12" text-anchor="middle" transform="rotate(-90 9.4 523.65)">True positive rate</text><rect x="232.5" y="513.2" width="98.0" height="80.6" rx="2" fill="#fff" stroke="#999" stroke-width="0.9"/><path d="M239.1,521.4h16" stroke="#3064b4" stroke-width="1.25"/><text class="t" x="261.4" y="525.1" font-size="10.5">NB (0.684)</text><path d="M239.1,537h16" stroke="#28965a" stroke-width="1.25"/><text class="t" x="261.4" y="540.7" font-size="10.5">KNN (0.768)</text><path d="M239.1,552.6h16" stroke="#eb3a44" stroke-width="1.25"/><text class="t" x="261.4" y="556.3" font-size="10.5">ANN (0.852)</text><path d="M239.1,568.2h16" stroke="#f5944c" stroke-width="1.25"/><text class="t" x="261.4" y="571.9" font-size="10.5">SVM (0.845)</text><path d="M239.1,583.8h16" stroke="#6c38a0" stroke-width="1.25"/><text class="t" x="261.4" y="587.5" font-size="10.5">BDT (0.904)</text><text class="c" x="69.1" y="650.2" font-size="12.6">(e)</text><text class="c" x="90" y="650.2" font-size="12.6" textLength="180.7" lengthAdjust="spacingAndGlyphs">Parametric model 2, no redshift</text></g>
<g><clipPath id="cp5"><rect x="402.5" y="447.4" width="296.0" height="152.39999999999998"/></clipPath><g clip-path="url(#cp5)" fill="none" stroke-width="1.25" stroke-linejoin="round" stroke-linecap="round"><path d="M402.4,598.8C402.97,596.6 403.37,594.5 404.1,592.2C404.93,589.59 405.98,586.6 407.2,584C408.39,581.47 409.8,579.16 411.3,576.8C412.85,574.36 414.6,572.06 416.4,569.6C418.35,566.94 420.4,564.09 422.6,561.4C424.86,558.62 427.51,555.85 429.8,553.2C431.93,550.73 434.03,548.34 435.9,546C437.6,543.88 438.54,542.03 440.6,539.8C443.55,536.61 448.55,532.57 452.5,529.2C456.28,525.98 460.29,522.79 463.8,520C466.82,517.6 469.3,515.52 472.3,513.4C475.45,511.18 479.08,508.97 482.3,507C485.23,505.2 487.87,503.53 490.8,502C493.77,500.46 496.57,499.52 500,497.8C504.53,495.53 510.04,491.82 515.5,489.3C521.21,486.66 527.72,484.35 533.6,482.4C539.03,480.6 544.18,479.53 549.5,477.9C554.94,476.23 560.61,474.11 565.9,472.5C570.79,471.01 575.3,469.74 580.1,468.5C584.99,467.24 589.77,466.21 595,465C600.81,463.65 606.88,462.11 613.4,460.8C620.71,459.33 628.99,457.98 636.8,456.7C644.59,455.42 652.39,454.22 660.2,453.1C667.99,451.98 676.79,450.84 683.6,450C688.86,449.35 692.93,448.93 697.6,448.4" stroke="#3064b4"/><path d="M402.4,598.8C402.97,595.57 403.26,592.16 404.1,589.1C404.89,586.21 405.98,583.5 407.2,580.9C408.39,578.37 409.8,576.06 411.3,573.7C412.85,571.26 414.69,568.9 416.4,566.5C418.12,564.1 419.67,561.73 421.6,559.3C423.73,556.61 426.42,553.75 428.7,551.1C430.84,548.62 432.89,546.42 434.9,543.9C436.99,541.29 438.62,538.22 441,535.7C443.49,533.06 446.88,531.1 449.6,528.5C452.35,525.87 455.11,522.6 457.4,520C459.27,517.87 460.39,516 462.4,514.1C464.76,511.87 467.94,509.87 470.9,507.7C474.08,505.37 477.55,502.87 480.9,500.6C484.18,498.37 487.55,496.24 490.8,494.2C493.91,492.25 496.6,490.42 500,488.6C503.95,486.48 508.43,484.55 513.2,482.4C518.76,479.89 525.53,477.03 531.4,474.5C536.88,472.14 542.05,469.62 547.3,467.7C552.25,465.89 556.84,464.72 562,463.2C567.71,461.52 574.33,459.47 580.1,458.1C585.28,456.87 590.45,455.99 595,455.2C598.83,454.54 601.72,454.14 605.6,453.6C610.3,452.94 615.47,452.2 621.2,451.6C628.2,450.87 635.22,450.2 644.6,449.7C658.7,448.96 679.93,448.83 697.6,448.4" stroke="#28965a"/><path d="M402.4,598.8C402.97,593.17 403.42,587.08 404.1,581.9C404.68,577.47 405.28,573.77 406.1,569.6C406.96,565.21 408.09,560.35 409.2,556.2C410.18,552.55 411.11,549.38 412.3,546C413.51,542.55 414.9,539.19 416.4,535.7C417.99,532 419.76,527.81 421.6,524.4C423.22,521.39 425.08,518.73 426.7,516.2C428.12,513.98 429.23,512.11 430.8,510C432.57,507.62 434.61,505.1 436.9,502.7C439.42,500.06 442.38,497.35 445.4,494.9C448.5,492.38 451.82,490 455.3,487.8C458.9,485.52 462.78,483.57 466.7,481.5C470.8,479.34 475.27,477.1 479.4,475.1C483.29,473.22 487.16,471.19 490.8,469.8C493.99,468.58 496.34,468.08 500,467C505.38,465.41 513.07,462.8 520,461.3C527.28,459.72 535.43,458.86 542.7,457.9C549.39,457.02 555.67,456.46 562,455.7C568.13,454.96 574.35,453.92 580.1,453.4C585.3,452.93 589.77,452.91 595,452.6C600.81,452.25 606.9,451.76 613.4,451.4C620.73,450.99 627.17,450.68 636.8,450.3C652.32,449.69 677.33,449.03 697.6,448.4" stroke="#eb3a44"/><path d="M402.4,598.8C402.97,593.17 403.42,587.08 404.1,581.9C404.68,577.47 405.28,573.77 406.1,569.6C406.96,565.21 408.09,560.35 409.2,556.2C410.18,552.55 411.11,549.38 412.3,546C413.51,542.55 414.9,539.19 416.4,535.7C417.99,532 419.76,527.81 421.6,524.4C423.22,521.39 425.12,519.05 426.7,516.2C428.33,513.26 429.5,509.95 431.2,507C432.9,504.05 434.75,501.11 436.9,498.5C439.03,495.91 441.33,493.66 444,491.4C446.94,488.91 450.4,486.42 453.9,484.3C457.46,482.14 461.17,480.4 465.2,478.6C469.62,476.62 474.91,474.67 479.4,473C483.39,471.51 487.18,470.1 490.8,469C494.01,468.02 496.35,467.6 500,466.6C505.4,465.13 513.07,462.4 520,460.9C527.28,459.32 535.43,458.48 542.7,457.5C549.39,456.6 555.67,455.94 562,455.2C568.13,454.48 574.35,453.57 580.1,453.1C585.3,452.68 589.77,452.69 595,452.4C600.81,452.07 606.9,451.56 613.4,451.2C620.73,450.79 627.17,450.46 636.8,450.1C652.32,449.52 677.33,448.97 697.6,448.4" stroke="#f5944c"/><path d="M402.4,598.8C402.53,595.87 402.59,592.87 402.8,590C403,587.24 403.29,585.03 403.6,581.9C404.02,577.58 404.5,571.63 405.1,566.5C405.7,561.36 406.43,556.23 407.2,551.1C407.97,545.96 408.73,540.64 409.7,535.7C410.61,531.06 411.53,526.77 412.8,522.3C414.11,517.7 415.61,512.36 417.5,508.5C419.02,505.39 420.78,503.3 422.7,500.6C424.83,497.61 427.4,494.38 429.8,491.4C432.14,488.49 434.3,485.5 436.9,482.9C439.5,480.3 442.26,477.98 445.4,475.8C448.8,473.44 452.65,471.35 456.7,469.4C461.1,467.28 466.12,465.31 470.9,463.7C475.59,462.12 480.28,460.9 485.1,459.8C489.98,458.69 494.97,457.86 500,457.1C505.1,456.33 509.84,455.88 515.5,455.2C522.35,454.37 530.54,453.25 538.2,452.5C546.03,451.74 554.61,451.22 562,450.7C568.44,450.24 574.36,449.77 580.1,449.5C585.31,449.26 588.69,449.22 595,449.1C605.96,448.89 624.08,448.72 640,448.6C658.02,448.47 678.4,448.47 697.6,448.4" stroke="#6c38a0"/></g><rect x="402.5" y="448.4" width="295" height="150.9" fill="none" stroke="#444" stroke-width="1.1"/><path d="M402.5,599.3v-3.0M402.5,448.4v3.0M402.5,599.3h3.0M697.5,599.3h-3.0" stroke="#333" stroke-width="1"/><text class="t" x="402.1" y="612.7" font-size="10.5" text-anchor="middle">0.0</text><text class="t" x="396.8" y="601.9" font-size="10.5" text-anchor="end">0.0</text><path d="M461.5,599.3v-3.0M461.5,448.4v3.0M402.5,569.12h3.0M697.5,569.12h-3.0" stroke="#333" stroke-width="1"/><text class="t" x="461.2" y="612.7" font-size="10.5" text-anchor="middle">0.2</text><text class="t" x="396.8" y="571.8" font-size="10.5" text-anchor="end">0.2</text><path d="M520.5,599.3v-3.0M520.5,448.4v3.0M402.5,538.94h3.0M697.5,538.94h-3.0" stroke="#333" stroke-width="1"/><text class="t" x="520.3" y="612.7" font-size="10.5" text-anchor="middle">0.4</text><text class="t" x="396.8" y="541.7" font-size="10.5" text-anchor="end">0.4</text><path d="M579.5,599.3v-3.0M579.5,448.4v3.0M402.5,508.76h3.0M697.5,508.76h-3.0" stroke="#333" stroke-width="1"/><text class="t" x="579.4" y="612.7" font-size="10.5" text-anchor="middle">0.6</text><text class="t" x="396.8" y="511.6" font-size="10.5" text-anchor="end">0.6</text><path d="M638.5,599.3v-3.0M638.5,448.4v3.0M402.5,478.58h3.0M697.5,478.58h-3.0" stroke="#333" stroke-width="1"/><text class="t" x="638.5" y="612.7" font-size="10.5" text-anchor="middle">0.8</text><text class="t" x="396.8" y="481.5" font-size="10.5" text-anchor="end">0.8</text><path d="M697.5,599.3v-3.0M697.5,448.4v3.0M402.5,448.4h3.0M697.5,448.4h-3.0" stroke="#333" stroke-width="1"/><text class="t" x="697.6" y="612.7" font-size="10.5" text-anchor="middle">1.0</text><text class="t" x="396.8" y="451.4" font-size="10.5" text-anchor="end">1.0</text><text class="t" x="549.85" y="630.4" font-size="12" text-anchor="middle">False positive rate</text><text class="t" x="371" y="523.65" font-size="12" text-anchor="middle" transform="rotate(-90 371 523.65)">True positive rate</text><rect x="594.5" y="513.2" width="98.0" height="80.6" rx="2" fill="#fff" stroke="#999" stroke-width="0.9"/><path d="M601.1,521.4h16" stroke="#3064b4" stroke-width="1.25"/><text class="t" x="623.4" y="525.1" font-size="10.5">NB (0.725)</text><path d="M601.1,537h16" stroke="#28965a" stroke-width="1.25"/><text class="t" x="623.4" y="540.7" font-size="10.5">KNN (0.769)</text><path d="M601.1,552.6h16" stroke="#eb3a44" stroke-width="1.25"/><text class="t" x="623.4" y="556.3" font-size="10.5">ANN (0.860)</text><path d="M601.1,568.2h16" stroke="#f5944c" stroke-width="1.25"/><text class="t" x="623.4" y="571.9" font-size="10.5">SVM (0.863)</text><path d="M601.1,583.8h16" stroke="#6c38a0" stroke-width="1.25"/><text class="t" x="623.4" y="587.5" font-size="10.5">BDT (0.914)</text><text class="c" x="424.7" y="650.2" font-size="12.6">(f)</text><text class="c" x="445.8" y="650.2" font-size="12.6" textLength="192.5" lengthAdjust="spacingAndGlyphs">Parametric model 2, with redshift</text></g>
<g><clipPath id="cp6"><rect x="40.5" y="670.0" width="296.0" height="152.5"/></clipPath><g clip-path="url(#cp6)" fill="none" stroke-width="1.25" stroke-linejoin="round" stroke-linecap="round"><path d="M40.6,821.3 L41.5,819.5 L42.5,818 L45.3,815.6 L335.3,671.2" stroke="#3064b4"/><path d="M40.6,821.3C40.8,811.93 40.69,800.56 41.2,793.2C41.53,788.42 41.9,785.28 42.6,781.4C43.3,777.55 44.5,773.9 45.4,770C46.34,765.91 47.02,761.23 48.1,757.4C49.03,754.09 50.16,751.33 51.3,748.3C52.46,745.23 53.7,742.15 55,739.1C56.3,736.04 57.61,733.16 59.1,730C60.75,726.49 62.61,722.65 64.5,719C66.41,715.31 68.31,711.57 70.5,708C72.71,704.4 75.13,700.8 77.7,697.5C80.21,694.28 82.89,690.93 85.7,688.4C88.22,686.13 90.69,684.37 93.6,682.8C96.69,681.13 100.09,680.05 103.8,678.8C108.11,677.35 112.67,675.8 118,674.8C124.59,673.56 131.94,673.1 140.5,672.6C151.82,671.93 162.49,672.01 180,671.8C214.71,671.38 283.53,671.4 335.3,671.2" stroke="#28965a"/><path d="M40.6,821.3C40.8,816.5 41,811.64 41.2,806.9C41.4,802.28 41.53,797.72 41.8,793.2C42.07,788.76 42.4,784.09 42.8,780C43.15,776.43 43.62,773.53 44,770C44.43,766.04 44.68,761.25 45.2,757.4C45.65,754.11 46.17,751.33 46.8,748.3C47.44,745.23 48.17,742.15 49,739.1C49.83,736.04 50.74,733.31 51.8,730C53.08,726 54.31,720.52 56.2,716.8C57.77,713.69 59.64,711.45 61.8,708.9C64.13,706.14 67,703.51 69.8,700.9C72.69,698.21 75.7,695.44 78.9,693C82.13,690.54 85.71,687.94 89.1,686.2C92.11,684.66 94.97,683.77 98.1,682.8C101.39,681.78 105.33,680.83 108.4,680.3C110.83,679.88 112.29,679.92 115,679.6C119.35,679.09 126.33,678.05 132,677.4C137.66,676.75 142.75,676.18 149,675.7C156.66,675.11 166.07,674.68 174.6,674.3C183.11,673.92 190.93,673.64 200.1,673.4C210.82,673.12 220.37,673.03 235,672.8C259.81,672.41 301.87,671.87 335.3,671.4" stroke="#eb3a44"/><path d="M40.6,821.3C40.63,810.43 40.33,796.68 40.7,788.7C40.92,784.06 41.4,781.04 41.7,777.7C41.95,774.91 42.13,772.88 42.4,770C42.74,766.31 43.18,761.26 43.6,757.4C43.95,754.12 44.25,751.34 44.7,748.3C45.15,745.24 45.65,742.15 46.3,739.1C46.95,736.05 47.66,733.3 48.6,730C49.74,725.99 51.04,720.54 52.8,716.8C54.25,713.72 55.97,711.58 57.9,708.9C60.05,705.92 62.65,702.27 65.2,699.8C67.38,697.69 69.57,696.52 72,694.7C74.81,692.59 78.09,690.25 81.1,687.9C84.16,685.52 87.35,682.66 90.2,680.5C92.6,678.68 94.43,676.75 97,675.7C99.7,674.59 102.85,674.59 106.1,674.2C109.79,673.76 113.07,673.57 118,673.3C126.08,672.86 134.93,672.5 150,672.2C186.26,671.48 273.53,671.53 335.3,671.2" stroke="#f5944c"/><path d="M40.6,821.3C40.62,810.87 40.63,799.27 40.65,790C40.67,782.59 40.6,775.9 40.7,770C40.78,765.32 40.95,761.26 41.1,757.4C41.22,754.12 41.32,751.34 41.5,748.3C41.68,745.24 41.93,742.16 42.2,739.1C42.47,736.06 42.74,733.35 43.1,730C43.54,725.88 43.87,720.17 44.7,716.2C45.35,713.08 46.2,710.49 47.2,708C48.1,705.77 49.13,703.91 50.3,701.9C51.52,699.81 52.89,697.72 54.4,695.7C55.98,693.59 57.68,691.32 59.6,689.5C61.46,687.73 63.58,686.12 65.7,684.9C67.69,683.76 69.77,683.06 71.9,682.3C74.07,681.52 76.55,680.86 78.6,680.3C80.33,679.83 81.54,679.54 83.4,679.1C85.95,678.5 89.47,677.67 92.5,677.1C95.5,676.54 98.04,676.08 101.5,675.7C106.16,675.18 112.08,675.09 118,674.6C124.92,674.03 131.94,672.9 140.5,672.4C151.82,671.73 162.49,671.8 180,671.6C214.71,671.2 283.53,671.33 335.3,671.2" stroke="#6c38a0"/></g><rect x="40.5" y="671.0" width="295" height="151" fill="none" stroke="#444" stroke-width="1.1"/><path d="M40.5,822v-3.0M40.5,671v3.0M40.5,822h3.0M335.5,822h-3.0" stroke="#333" stroke-width="1"/><text class="t" x="40.5" y="835.3" font-size="10.5" text-anchor="middle">0.0</text><text class="t" x="35.2" y="824.5" font-size="10.5" text-anchor="end">0.0</text><path d="M99.5,822v-3.0M99.5,671v3.0M40.5,791.8h3.0M335.5,791.8h-3.0" stroke="#333" stroke-width="1"/><text class="t" x="99.46" y="835.3" font-size="10.5" text-anchor="middle">0.2</text><text class="t" x="35.2" y="794.44" font-size="10.5" text-anchor="end">0.2</text><path d="M158.5,822v-3.0M158.5,671v3.0M40.5,761.6h3.0M335.5,761.6h-3.0" stroke="#333" stroke-width="1"/><text class="t" x="158.42" y="835.3" font-size="10.5" text-anchor="middle">0.4</text><text class="t" x="35.2" y="764.38" font-size="10.5" text-anchor="end">0.4</text><path d="M217.5,822v-3.0M217.5,671v3.0M40.5,731.4h3.0M335.5,731.4h-3.0" stroke="#333" stroke-width="1"/><text class="t" x="217.38" y="835.3" font-size="10.5" text-anchor="middle">0.6</text><text class="t" x="35.2" y="734.32" font-size="10.5" text-anchor="end">0.6</text><path d="M276.5,822v-3.0M276.5,671v3.0M40.5,701.2h3.0M335.5,701.2h-3.0" stroke="#333" stroke-width="1"/><text class="t" x="276.34" y="835.3" font-size="10.5" text-anchor="middle">0.8</text><text class="t" x="35.2" y="704.26" font-size="10.5" text-anchor="end">0.8</text><path d="M335.5,822v-3.0M335.5,671v3.0M40.5,671h3.0M335.5,671h-3.0" stroke="#333" stroke-width="1"/><text class="t" x="335.3" y="835.3" font-size="10.5" text-anchor="middle">1.0</text><text class="t" x="35.2" y="674.2" font-size="10.5" text-anchor="end">1.0</text><text class="t" x="187.9" y="853" font-size="12" text-anchor="middle">False positive rate</text><text class="t" x="9.4" y="746.35" font-size="12" text-anchor="middle" transform="rotate(-90 9.4 746.35)">True positive rate</text><rect x="232.5" y="735.8" width="98.0" height="80.6" rx="2" fill="#fff" stroke="#999" stroke-width="0.9"/><path d="M239.1,744h16" stroke="#3064b4" stroke-width="1.25"/><text class="t" x="261.4" y="747.7" font-size="10.5">NB (0.509)</text><path d="M239.1,759.6h16" stroke="#28965a" stroke-width="1.25"/><text class="t" x="261.4" y="763.3" font-size="10.5">KNN (0.912)</text><path d="M239.1,775.2h16" stroke="#eb3a44" stroke-width="1.25"/><text class="t" x="261.4" y="778.9" font-size="10.5">ANN (0.929)</text><path d="M239.1,790.8h16" stroke="#f5944c" stroke-width="1.25"/><text class="t" x="261.4" y="794.5" font-size="10.5">SVM (0.954)</text><path d="M239.1,806.4h16" stroke="#6c38a0" stroke-width="1.25"/><text class="t" x="261.4" y="810.1" font-size="10.5">BDT (0.969)</text><text class="c" x="99.8" y="872.3" font-size="12.6">(g)</text><text class="c" x="121.5" y="872.3" font-size="12.6" textLength="118.8" lengthAdjust="spacingAndGlyphs">Wavelets, no redshift</text></g>
<g><clipPath id="cp7"><rect x="402.5" y="670.0" width="296.0" height="152.5"/></clipPath><g clip-path="url(#cp7)" fill="none" stroke-width="1.25" stroke-linejoin="round" stroke-linecap="round"><path d="M402.5,821.2 L419.3,803.1 L480,774.2 L697.6,671.2" stroke="#3064b4"/><path d="M402.5,821.2C402.8,815.93 403.1,811.14 403.4,805.4C403.76,798.52 404.08,789.45 404.5,782.7C404.83,777.27 405.16,772.15 405.6,768C405.93,764.93 406.19,762.92 406.7,760C407.32,756.42 408.23,751.9 409.2,748.1C410.11,744.52 411.07,741.1 412.3,737.8C413.49,734.61 415.03,731.67 416.4,728.6C418.13,726.53 419.75,724.43 421.6,722.4C423.51,720.29 425.51,718.15 427.7,716.2C429.94,714.21 432.65,712.38 434.9,710.6C436.92,709 438.53,707.4 440.6,706C442.78,704.52 445.05,703.65 447.7,702C451.3,699.76 456.05,695.74 460.1,693.5C463.6,691.56 467.01,690.36 470.4,689C473.64,687.7 476.59,686.54 480,685.5C483.75,684.35 487.65,683.54 492,682.5C497.17,681.26 503.31,679.73 509,678.6C514.68,677.47 520.4,676.47 526.1,675.7C531.76,674.94 537.43,674.43 543.1,674C548.76,673.57 554.43,673.33 560.1,673.1C565.77,672.87 571.36,672.73 577.1,672.6C582.99,672.46 586.58,672.41 595,672.3C615.15,672.03 663.4,671.63 697.6,671.3" stroke="#28965a"/><path d="M402.5,821.2C402.8,814.03 403.07,806.96 403.4,799.7C403.74,792.24 404.1,784.02 404.5,777C404.84,770.92 405.16,765.75 405.6,760C406.05,754.06 406.52,747.34 407.2,741.9C407.76,737.39 408.39,733.5 409.2,729.6C409.95,726 410.77,722.7 411.8,719.3C412.84,715.87 413.91,712.62 415.4,709.1C417.09,705.12 419.25,699.96 421.6,696.7C423.46,694.13 425.46,692.33 427.7,690.6C429.9,688.9 432.61,687.57 434.9,686.4C436.88,685.39 438.37,684.65 440.6,683.9C443.53,682.92 447.36,682.16 451.1,681.4C455.33,680.54 460.02,679.74 464.7,679.1C469.64,678.42 475.21,678.01 480,677.5C484.24,677.05 487.65,676.58 492,676.2C497.17,675.75 503.32,675.38 509,675.1C514.69,674.82 519.83,674.72 526.1,674.5C533.75,674.23 543.1,673.83 551.6,673.6C560.1,673.37 569.35,673.24 577.1,673.1C583.59,672.98 586.58,672.93 595,672.8C615.15,672.49 663.4,671.87 697.6,671.4" stroke="#eb3a44"/><path d="M402.5,821.2C402.8,806.47 402.89,788.27 403.4,777C403.72,770 404.25,766.11 404.6,760C405.01,752.87 404.87,743.72 405.6,736.8C406.2,731.12 407.13,725.99 408.2,721.4C409.09,717.59 410.14,714.6 411.3,711.1C412.53,707.4 413.91,703.63 415.4,699.8C416.97,695.77 418.8,691.6 420.5,687.5C422.9,685.77 425.24,683.79 427.7,682.3C430.04,680.88 432.63,679.77 434.9,678.7C436.9,677.76 438.16,676.91 440.6,676.2C444.55,675.05 450.82,674.31 456.7,673.7C463.73,672.97 470.43,672.82 480,672.5C495.35,671.99 515.26,671.82 540,671.6C580.09,671.25 645.07,671.33 697.6,671.2" stroke="#f5944c"/><path d="M402.5,821.2C402.6,806.47 402.33,788.27 402.8,777C403.09,770 403.8,765.76 404.1,760C404.41,754.06 404.36,748.12 404.6,741.9C404.85,735.28 405.07,727.36 405.6,721.4C406.01,716.77 406.55,712.9 407.2,709.1C407.77,705.77 408.29,702.66 409.2,699.8C410.03,697.2 411.08,694.86 412.3,692.6C413.49,690.4 414.79,688.15 416.4,686.4C417.92,684.75 419.66,683.54 421.6,682.3C423.72,680.94 425.96,679.66 428.7,678.7C432.09,677.51 436.75,676.97 440.6,676.2C444.21,675.48 447.52,674.71 451.1,674.2C454.79,673.67 458.21,673.4 462.4,673.1C467.62,672.73 472.39,672.52 480,672.3C494.05,671.89 515.26,671.69 540,671.5C580.09,671.19 645.07,671.3 697.6,671.2" stroke="#6c38a0"/></g><rect x="402.5" y="671.0" width="295" height="151" fill="none" stroke="#444" stroke-width="1.1"/><path d="M402.5,822v-3.0M402.5,671v3.0M402.5,822h3.0M697.5,822h-3.0" stroke="#333" stroke-width="1"/><text class="t" x="402.1" y="835.3" font-size="10.5" text-anchor="middle">0.0</text><text class="t" x="396.8" y="824.5" font-size="10.5" text-anchor="end">0.0</text><path d="M461.5,822v-3.0M461.5,671v3.0M402.5,791.8h3.0M697.5,791.8h-3.0" stroke="#333" stroke-width="1"/><text class="t" x="461.2" y="835.3" font-size="10.5" text-anchor="middle">0.2</text><text class="t" x="396.8" y="794.44" font-size="10.5" text-anchor="end">0.2</text><path d="M520.5,822v-3.0M520.5,671v3.0M402.5,761.6h3.0M697.5,761.6h-3.0" stroke="#333" stroke-width="1"/><text class="t" x="520.3" y="835.3" font-size="10.5" text-anchor="middle">0.4</text><text class="t" x="396.8" y="764.38" font-size="10.5" text-anchor="end">0.4</text><path d="M579.5,822v-3.0M579.5,671v3.0M402.5,731.4h3.0M697.5,731.4h-3.0" stroke="#333" stroke-width="1"/><text class="t" x="579.4" y="835.3" font-size="10.5" text-anchor="middle">0.6</text><text class="t" x="396.8" y="734.32" font-size="10.5" text-anchor="end">0.6</text><path d="M638.5,822v-3.0M638.5,671v3.0M402.5,701.2h3.0M697.5,701.2h-3.0" stroke="#333" stroke-width="1"/><text class="t" x="638.5" y="835.3" font-size="10.5" text-anchor="middle">0.8</text><text class="t" x="396.8" y="704.26" font-size="10.5" text-anchor="end">0.8</text><path d="M697.5,822v-3.0M697.5,671v3.0M402.5,671h3.0M697.5,671h-3.0" stroke="#333" stroke-width="1"/><text class="t" x="697.6" y="835.3" font-size="10.5" text-anchor="middle">1.0</text><text class="t" x="396.8" y="674.2" font-size="10.5" text-anchor="end">1.0</text><text class="t" x="549.85" y="853" font-size="12" text-anchor="middle">False positive rate</text><text class="t" x="371" y="746.35" font-size="12" text-anchor="middle" transform="rotate(-90 371 746.35)">True positive rate</text><rect x="594.5" y="735.8" width="98.0" height="80.6" rx="2" fill="#fff" stroke="#999" stroke-width="0.9"/><path d="M601.1,744h16" stroke="#3064b4" stroke-width="1.25"/><text class="t" x="623.4" y="747.7" font-size="10.5">NB (0.531)</text><path d="M601.1,759.6h16" stroke="#28965a" stroke-width="1.25"/><text class="t" x="623.4" y="763.3" font-size="10.5">KNN (0.886)</text><path d="M601.1,775.2h16" stroke="#eb3a44" stroke-width="1.25"/><text class="t" x="623.4" y="778.9" font-size="10.5">ANN (0.945)</text><path d="M601.1,790.8h16" stroke="#f5944c" stroke-width="1.25"/><text class="t" x="623.4" y="794.5" font-size="10.5">SVM (0.970)</text><path d="M601.1,806.4h16" stroke="#6c38a0" stroke-width="1.25"/><text class="t" x="623.4" y="810.1" font-size="10.5">BDT (0.979)</text><text class="c" x="455.2" y="872.3" font-size="12.6">(h)</text><text class="c" x="478" y="872.3" font-size="12.6" textLength="129.7" lengthAdjust="spacingAndGlyphs">Wavelets, with redshift</text></g>
</svg></body></html>
